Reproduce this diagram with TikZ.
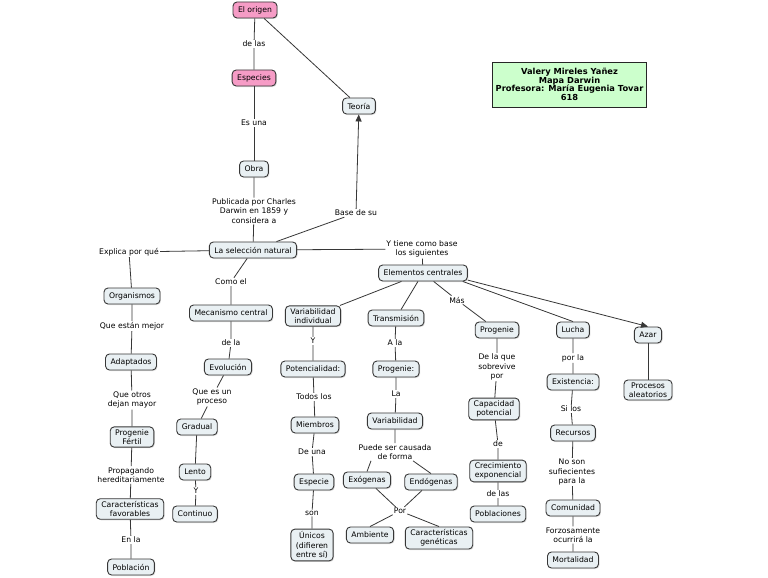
\documentclass[tikz,border=0pt]{standalone}
\usepackage{fontspec}
\setmainfont{DejaVu Sans}
\usepackage{xcolor}
\usepackage{tikz}
\usetikzlibrary{
  arrows.meta,
  shadows
}
\definecolor{rosaconc}{RGB}{246, 156, 198}
\definecolor{grisconc}{RGB}{233, 240, 243}
\definecolor{verdeinfo}{RGB}{204, 255, 204}
\definecolor{linea}{RGB}{55, 55, 55}

\begin{document}
\begin{tikzpicture}[
  x=1pt, y=-1pt,
  con/.style  = {
    rectangle, draw=linea, fill=grisconc, line width=0.9pt,
    rounded corners=4pt, align=center, inner xsep=5pt, inner ysep=2.5pt,
    minimum height=16pt, font=\fontsize{7.7}{9.3}\selectfont,
    drop shadow={shadow xshift=1pt, shadow yshift=-1pt, opacity=0.25}
  },
  conp/.style = {con, fill=rosaconc},
  lbl/.style  = {
    align=center, inner sep=1pt, font=\fontsize{7.7}{9.3}\selectfont
  },
  info/.style = {
    rectangle, draw=black!85, fill=verdeinfo, line width=0.8pt,
    align=center, minimum width=153pt, minimum height=45pt,
    font=\fontsize{8.3}{8.6}\selectfont\bfseries
  },
  ln/.style   = {draw=linea, line width=0.8pt},
  lnarr/.style = {ln, -{Triangle[length=7pt, width=6pt]}}
]
\fill[white] (0,0) rectangle (768,578);
\useasboundingbox (0,0) rectangle (768,578);

% Conceptos superiores
\node[conp] (origen)   at (255,10)  {El origen};
\node[conp] (especies) at (254,78)  {Especies};
\node[con]  (teoria)   at (359,106) {Teoría};
\node[con]  (obra)     at (254,169) {Obra};
\node[con]  (selec)    at (253,250) {La selección natural};
\node[con]  (elem)     at (423,273) {Elementos centrales};

% Caja de datos
\node[info] (datos) at (569.5,84.5)
  {Valery Mireles Yañez\\Mapa Darwin\\Profesora: María Eugenia Tovar\\618};

% Columna Organismos
\node[con] (organ)   at (132,296) {Organismos};
\node[con] (adapt)   at (131,362) {Adaptados};
\node[con] (progfer) at (132,437) {Progenie\\Fértil};
\node[con] (caracfa) at (130,509) {Características\\favorables};
\node[con] (pobla)   at (131,567) {Población};

% Columna Mecanismo
\node[con] (mecan)   at (231,313) {Mecanismo central};
\node[con] (evol)    at (228,367) {Evolución};
\node[con] (grad)    at (197,427) {Gradual};
\node[con] (lento)   at (195,472) {Lento};
\node[con] (contin)  at (195,514) {Continuo};

% Columna Variabilidad individual
\node[con] (varind)  at (313,316) {Variabilidad\\individual};
\node[con] (potenc)  at (313,369) {Potencialidad:};
\node[con] (miemb)   at (315,425) {Miembros};
\node[con] (espec)   at (314,482) {Especie};
\node[con] (unicos)  at (312,545) {Únicos\\(difieren\\entre sí)};

% Columna Transmision
\node[con] (transm)  at (396,318) {Transmisión};
\node[con] (proge2)  at (396,369) {Progenie:};
\node[con] (variab)  at (395,421) {Variabilidad};
\node[con] (exog)    at (367,480) {Exógenas};
\node[con] (endog)   at (431,482) {Endógenas};
\node[con] (ambien)  at (370,535) {Ambiente};
\node[con] (caracge) at (439,538) {Características\\genéticas};

% Columna Progenie
\node[con] (proge)   at (497,330) {Progenie};
\node[con] (capac)   at (494,409) {Capacidad\\potencial};
\node[con] (crecim)  at (498,471) {Crecimiento\\exponencial};
\node[con] (poblac)  at (498,514) {Poblaciones};

% Columna Lucha
\node[con] (lucha)   at (573,330) {Lucha};
\node[con] (exist)   at (573,382) {Existencia:};
\node[con] (recur)   at (573,433) {Recursos};
\node[con] (comun)   at (573,508) {Comunidad};
\node[con] (mortal)  at (573,560) {Mortalidad};

% Columna Azar
\node[con] (azar)    at (648,335) {Azar};
\node[con] (proces)  at (648,390) {Procesos\\aleatorios};

% Frases de enlace
\node[lbl] (ldelas)  at (254,44)  {de las};
\node[lbl] (lesuna)  at (254,123) {Es una};
\node[lbl] (lpubli)  at (254,211) {Publicada por Charles\\Darwin en 1859 y\\considera a};
\node[lbl] (lbase)   at (356,213) {Base de su};
\node[lbl] (lexpli)  at (129,252) {Explica por qué};
\node[lbl] (lcomo)   at (231,282) {Como el};
\node[lbl] (ltiene)  at (422,249) {Y tiene como base\\los siguientes};
\node[lbl] (lestan)  at (132,326) {Que están mejor};
\node[lbl] (lotros)  at (132,400) {Que otros\\dejan mayor};
\node[lbl] (lpropa)  at (131,475) {Propagando\\hereditariamente};
\node[lbl] (lenla)   at (131,540) {En la};
\node[lbl] (ldela)   at (231,343) {de la};
\node[lbl] (lproce)  at (212,397) {Que es un\\proceso};
\node[lbl] (ly)      at (196,491) {Y};
\node[lbl] (ly2)     at (313,341) {Y};
\node[lbl] (ltodos)  at (314,397) {Todos los};
\node[lbl] (ldeuna)  at (312,452) {De una};
\node[lbl] (lson)    at (312,513) {son};
\node[lbl] (lala)    at (395,343) {A la};
\node[lbl] (lla)     at (396,394) {La};
\node[lbl] (lcausa)  at (395,452) {Puede ser causada\\de forma};
\node[lbl] (lpor)    at (400,511) {Por};
\node[lbl] (lmas)    at (457,300) {Más};
\node[lbl] (lsobre)  at (497,367) {De la que\\sobrevive\\por};
\node[lbl] (lde)     at (498,444) {de};
\node[lbl] (ldelas2) at (498,494) {de las};
\node[lbl] (lporla)  at (573,358) {por la};
\node[lbl] (lsilos)  at (571,409) {Si los};
\node[lbl] (lnoson)  at (572,472) {No son\\sufiecientes\\para la};
\node[lbl] (lforzo)  at (573,535) {Forzosamente\\ocurrirá la};

% Enlaces parte superior
\draw[ln] (origen) -- (ldelas) -- (especies);
\draw[ln] (origen) -- (teoria);
\draw[ln] (especies) -- (lesuna) -- (obra);
\draw[ln] (obra) -- (lpubli) -- (selec);
\draw[ln] (selec) -- (lbase);
\draw[lnarr] (lbase) -- (teoria);
\draw[ln] (selec) -- (lexpli) -- (organ);
\draw[ln] (selec) -- (lcomo) -- (mecan);
\draw[ln] (selec) -- (ltiene) -- (elem);

% Enlaces columnas izquierdas
\draw[ln] (organ) -- (lestan) -- (adapt) -- (lotros) -- (progfer)
  -- (lpropa) -- (caracfa) -- (lenla) -- (pobla);
\draw[ln] (mecan) -- (ldela) -- (evol) -- (lproce) -- (grad) -- (lento)
  -- (ly) -- (contin);

% Enlaces desde Elementos centrales
\draw[ln] (elem) -- (varind);
\draw[ln] (elem) -- (transm);
\draw[ln] (elem) -- (lmas) -- (proge);
\draw[ln] (elem.-12) -- (lucha.north);
\draw[lnarr] (elem.-9) -- (azar.north);

\draw[ln] (varind) -- (ly2) -- (potenc) -- (ltodos) -- (miemb) -- (ldeuna)
  -- (espec) -- (lson) -- (unicos);
\draw[ln] (transm) -- (lala) -- (proge2) -- (lla) -- (variab) -- (lcausa);
\draw[ln] ([xshift=-24pt]lcausa.south) -- (exog.north);
\draw[ln] ([xshift=18pt]lcausa.south) -- (endog.north);
\draw[ln] (exog) -- (lpor);
\draw[ln] (endog) -- (lpor);
\draw[ln] (lpor) -- (ambien.north);
\draw[ln] (lpor) -- (caracge.north);
\draw[ln] (proge) -- (lsobre) -- (capac) -- (lde) -- (crecim) -- (ldelas2)
  -- (poblac);
\draw[ln] (lucha) -- (lporla) -- (exist) -- (lsilos) -- (recur) -- (lnoson)
  -- (comun) -- (lforzo) -- (mortal);
\draw[ln] (azar) -- (proces);

\end{tikzpicture}
\end{document}
